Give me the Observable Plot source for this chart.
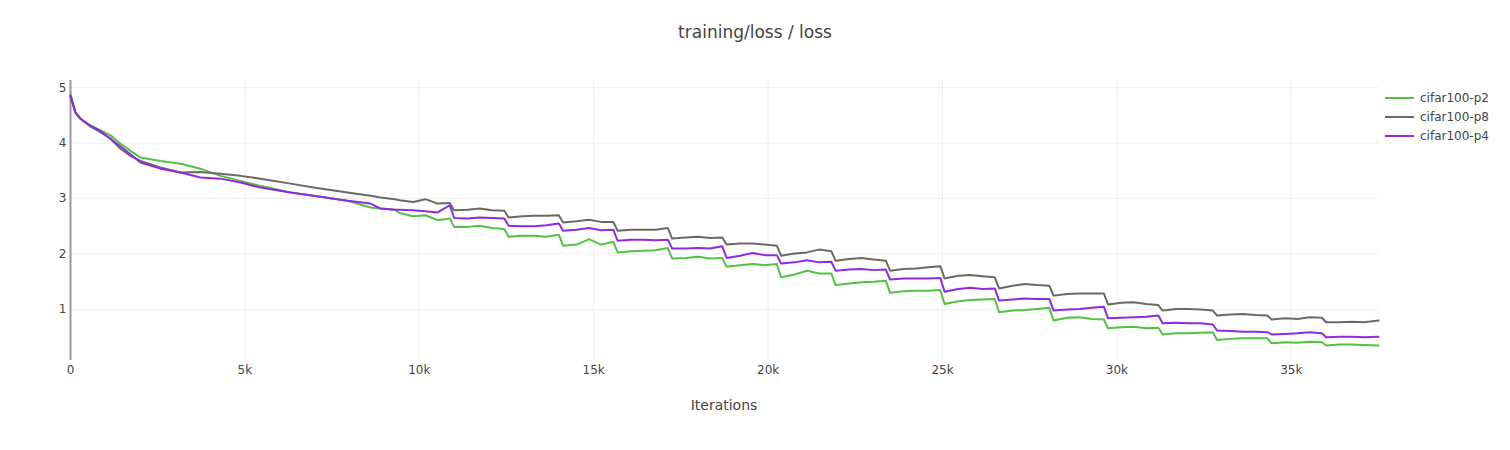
<!DOCTYPE html>
<html>
<head>
<meta charset="utf-8">
<script src="https://cdn.jsdelivr.net/npm/d3@7"></script>
<script src="https://cdn.jsdelivr.net/npm/@observablehq/plot@0.6"></script>
<style>
  html, body { margin: 0; padding: 0; background: #fff; }
  #wrap { position: relative; width: 1510px; height: 450px; font-family: "DejaVu Sans", Verdana, sans-serif; color: #444; }
  #title { position: absolute; left: 0; width: 1510px; top: 22px; text-align: center; font-size: 17px; }
  #xlabel { position: absolute; left: 70px; width: 1308px; top: 397px; text-align: center; font-size: 14px; }
  #legend { position: absolute; left: 1385px; top: 88px; font-size: 12px; }
  .row { height: 19px; display: flex; align-items: center; }
  .row svg { margin-right: 6px; }
  #chart { position: absolute; left: 0; top: 0; }
</style>
</head>
<body>
<div id="wrap">
  <div id="chart"></div>
  <div id="title">training/loss / loss</div>
  <div id="xlabel">Iterations</div>
  <div id="legend"></div>
</div>
<script>
const iterations = [
  0, 143, 287, 573, 860, 1147, 1434, 1720, 2007, 2580, 3154, 3727, 4300, 4874, 5447, 6307, 6967, 7942, 8600, 8888, 9300,
  9435, 9825, 10175, 10525, 10875,
  10997, 11387, 11737, 12087, 12437,
  12560, 12950, 13300, 13650, 14000,
  14122, 14512, 14862, 15212, 15562,
  15685, 16075, 16425, 16775, 17125,
  17247, 17637, 17987, 18337, 18687,
  18810, 19200, 19550, 19900, 20250,
  20372, 20762, 21112, 21462, 21812,
  21935, 22325, 22675, 23025, 23375,
  23497, 23887, 24237, 24587, 24937,
  25060, 25450, 25800, 26150, 26500,
  26622, 27012, 27362, 27712, 28062,
  28185, 28575, 28925, 29275, 29625,
  29747, 30137, 30487, 30837, 31187,
  31310, 31700, 32050, 32400, 32750,
  32872, 33262, 33612, 33962, 34312,
  34435, 34825, 35175, 35525, 35875,
  35997, 36387, 36737, 37087, 37500
];

const lossP2 = [
  4.88, 4.55, 4.44, 4.32, 4.23, 4.14, 3.99, 3.86, 3.74, 3.68, 3.63, 3.54, 3.41, 3.32, 3.23, 3.11, 3.05, 2.96, 2.84, 2.82, 2.80,
  2.74, 2.68, 2.70, 2.61, 2.64,
  2.49, 2.49, 2.51, 2.47, 2.45,
  2.31, 2.33, 2.33, 2.31, 2.35,
  2.15, 2.17, 2.27, 2.17, 2.22,
  2.03, 2.05, 2.06, 2.07, 2.11,
  1.92, 1.93, 1.95, 1.92, 1.93,
  1.77, 1.80, 1.82, 1.80, 1.82,
  1.58, 1.63, 1.70, 1.65, 1.65,
  1.44, 1.47, 1.49, 1.50, 1.52,
  1.30, 1.33, 1.34, 1.34, 1.35,
  1.10, 1.15, 1.17, 1.18, 1.19,
  0.95, 0.98, 0.99, 1.01, 1.03,
  0.80, 0.85, 0.86, 0.83, 0.82,
  0.66, 0.68, 0.69, 0.66, 0.67,
  0.55, 0.57, 0.57, 0.58, 0.59,
  0.45, 0.47, 0.48, 0.48, 0.48,
  0.39, 0.41, 0.40, 0.42, 0.41,
  0.35, 0.37, 0.37, 0.36, 0.35
];

const lossP8 = [
  4.86, 4.55, 4.44, 4.30, 4.20, 4.08, 3.90, 3.77, 3.68, 3.56, 3.47, 3.48, 3.45, 3.41, 3.36, 3.27, 3.20, 3.11, 3.05, 3.02, 2.99,
  2.97, 2.94, 2.99, 2.91, 2.92,
  2.79, 2.80, 2.82, 2.79, 2.78,
  2.66, 2.68, 2.69, 2.69, 2.70,
  2.57, 2.59, 2.62, 2.58, 2.58,
  2.42, 2.44, 2.44, 2.44, 2.47,
  2.28, 2.30, 2.31, 2.29, 2.30,
  2.17, 2.19, 2.19, 2.17, 2.15,
  1.97, 2.01, 2.03, 2.08, 2.05,
  1.88, 1.91, 1.93, 1.90, 1.88,
  1.70, 1.73, 1.74, 1.76, 1.78,
  1.56, 1.61, 1.62, 1.60, 1.58,
  1.38, 1.43, 1.46, 1.44, 1.43,
  1.25, 1.28, 1.29, 1.29, 1.29,
  1.09, 1.12, 1.13, 1.10, 1.08,
  0.98, 1.01, 1.01, 1.00, 0.98,
  0.89, 0.91, 0.92, 0.90, 0.89,
  0.82, 0.84, 0.83, 0.86, 0.85,
  0.77, 0.77, 0.78, 0.77, 0.80
];

const lossP4 = [
  4.84, 4.55, 4.44, 4.31, 4.22, 4.08, 3.94, 3.80, 3.65, 3.54, 3.47, 3.38, 3.36, 3.29, 3.20, 3.11, 3.05, 2.96, 2.91, 2.82, 2.80,
  2.80, 2.79, 2.77, 2.75, 2.88,
  2.65, 2.64, 2.66, 2.65, 2.64,
  2.51, 2.50, 2.50, 2.52, 2.55,
  2.42, 2.44, 2.47, 2.43, 2.44,
  2.24, 2.26, 2.26, 2.25, 2.26,
  2.10, 2.10, 2.11, 2.10, 2.14,
  1.93, 1.97, 2.02, 1.98, 1.98,
  1.83, 1.85, 1.89, 1.85, 1.86,
  1.70, 1.72, 1.73, 1.71, 1.72,
  1.54, 1.56, 1.56, 1.56, 1.57,
  1.32, 1.37, 1.39, 1.37, 1.38,
  1.16, 1.18, 1.20, 1.19, 1.19,
  0.98, 1.00, 1.01, 1.03, 1.05,
  0.84, 0.85, 0.86, 0.87, 0.89,
  0.75, 0.76, 0.75, 0.75, 0.73,
  0.62, 0.61, 0.60, 0.60, 0.59,
  0.55, 0.56, 0.57, 0.59, 0.57,
  0.50, 0.51, 0.51, 0.50, 0.51
];

const seriesNames = ["cifar100-p2", "cifar100-p8", "cifar100-p4"];
const seriesColors = ["#53c143", "#6d6862", "#8e2ae6"];
const seriesValues = [lossP2, lossP8, lossP4];

const xTicks = [0, 5000, 10000, 15000, 20000, 25000, 30000, 35000];
const xTickLabels = ["0", "5k", "10k", "15k", "20k", "25k", "30k", "35k"];
const yTicks = [1, 2, 3, 4, 5];
const yTickLabels = ["1", "2", "3", "4", "5"];

const rows = [];
seriesNames.forEach((name, s) => {
  iterations.forEach((it, i) => rows.push({ series: name, it, loss: seriesValues[s][i] }));
});

const chart = Plot.plot({
  width: 1510,
  height: 450,
  marginLeft: 70,
  marginRight: 132,
  marginTop: 80,
  marginBottom: 90,
  style: { fontFamily: "'DejaVu Sans', Verdana, sans-serif", fontSize: "12px", color: "#444", background: "transparent" },
  x: { domain: [0, 37500] },
  y: { domain: [0.08, 5.13] },
  color: { domain: seriesNames, range: seriesColors },
  marks: [
    Plot.gridX(xTicks.filter(d => d !== 0), { stroke: "#eeeeee", strokeOpacity: 1, strokeWidth: 1 }),
    Plot.gridY(yTicks, { stroke: "#eeeeee", strokeOpacity: 1, strokeWidth: 1 }),
    Plot.ruleX([0], { stroke: "#999999", strokeWidth: 2 }),
    Plot.axisX(xTicks, { tickSize: 0, tickPadding: 5, tickFormat: (d, i) => xTickLabels[i], label: null, fill: "#444" }),
    Plot.axisY(yTicks, { tickSize: 0, tickPadding: 4, tickFormat: (d, i) => yTickLabels[i], label: null, fill: "#444" }),
    Plot.line(rows, { x: "it", y: "loss", z: "series", stroke: "series", strokeWidth: 2, strokeLinejoin: "round" })
  ]
});
document.getElementById("chart").appendChild(chart);

const legend = document.getElementById("legend");
seriesNames.forEach((name, s) => {
  const row = document.createElement("div");
  row.className = "row";
  row.innerHTML = `<svg width="29" height="4"><line x1="0" y1="2" x2="29" y2="2" stroke="${seriesColors[s]}" stroke-width="2"/></svg><span>${name}</span>`;
  legend.appendChild(row);
});
</script>
</body>
</html>
